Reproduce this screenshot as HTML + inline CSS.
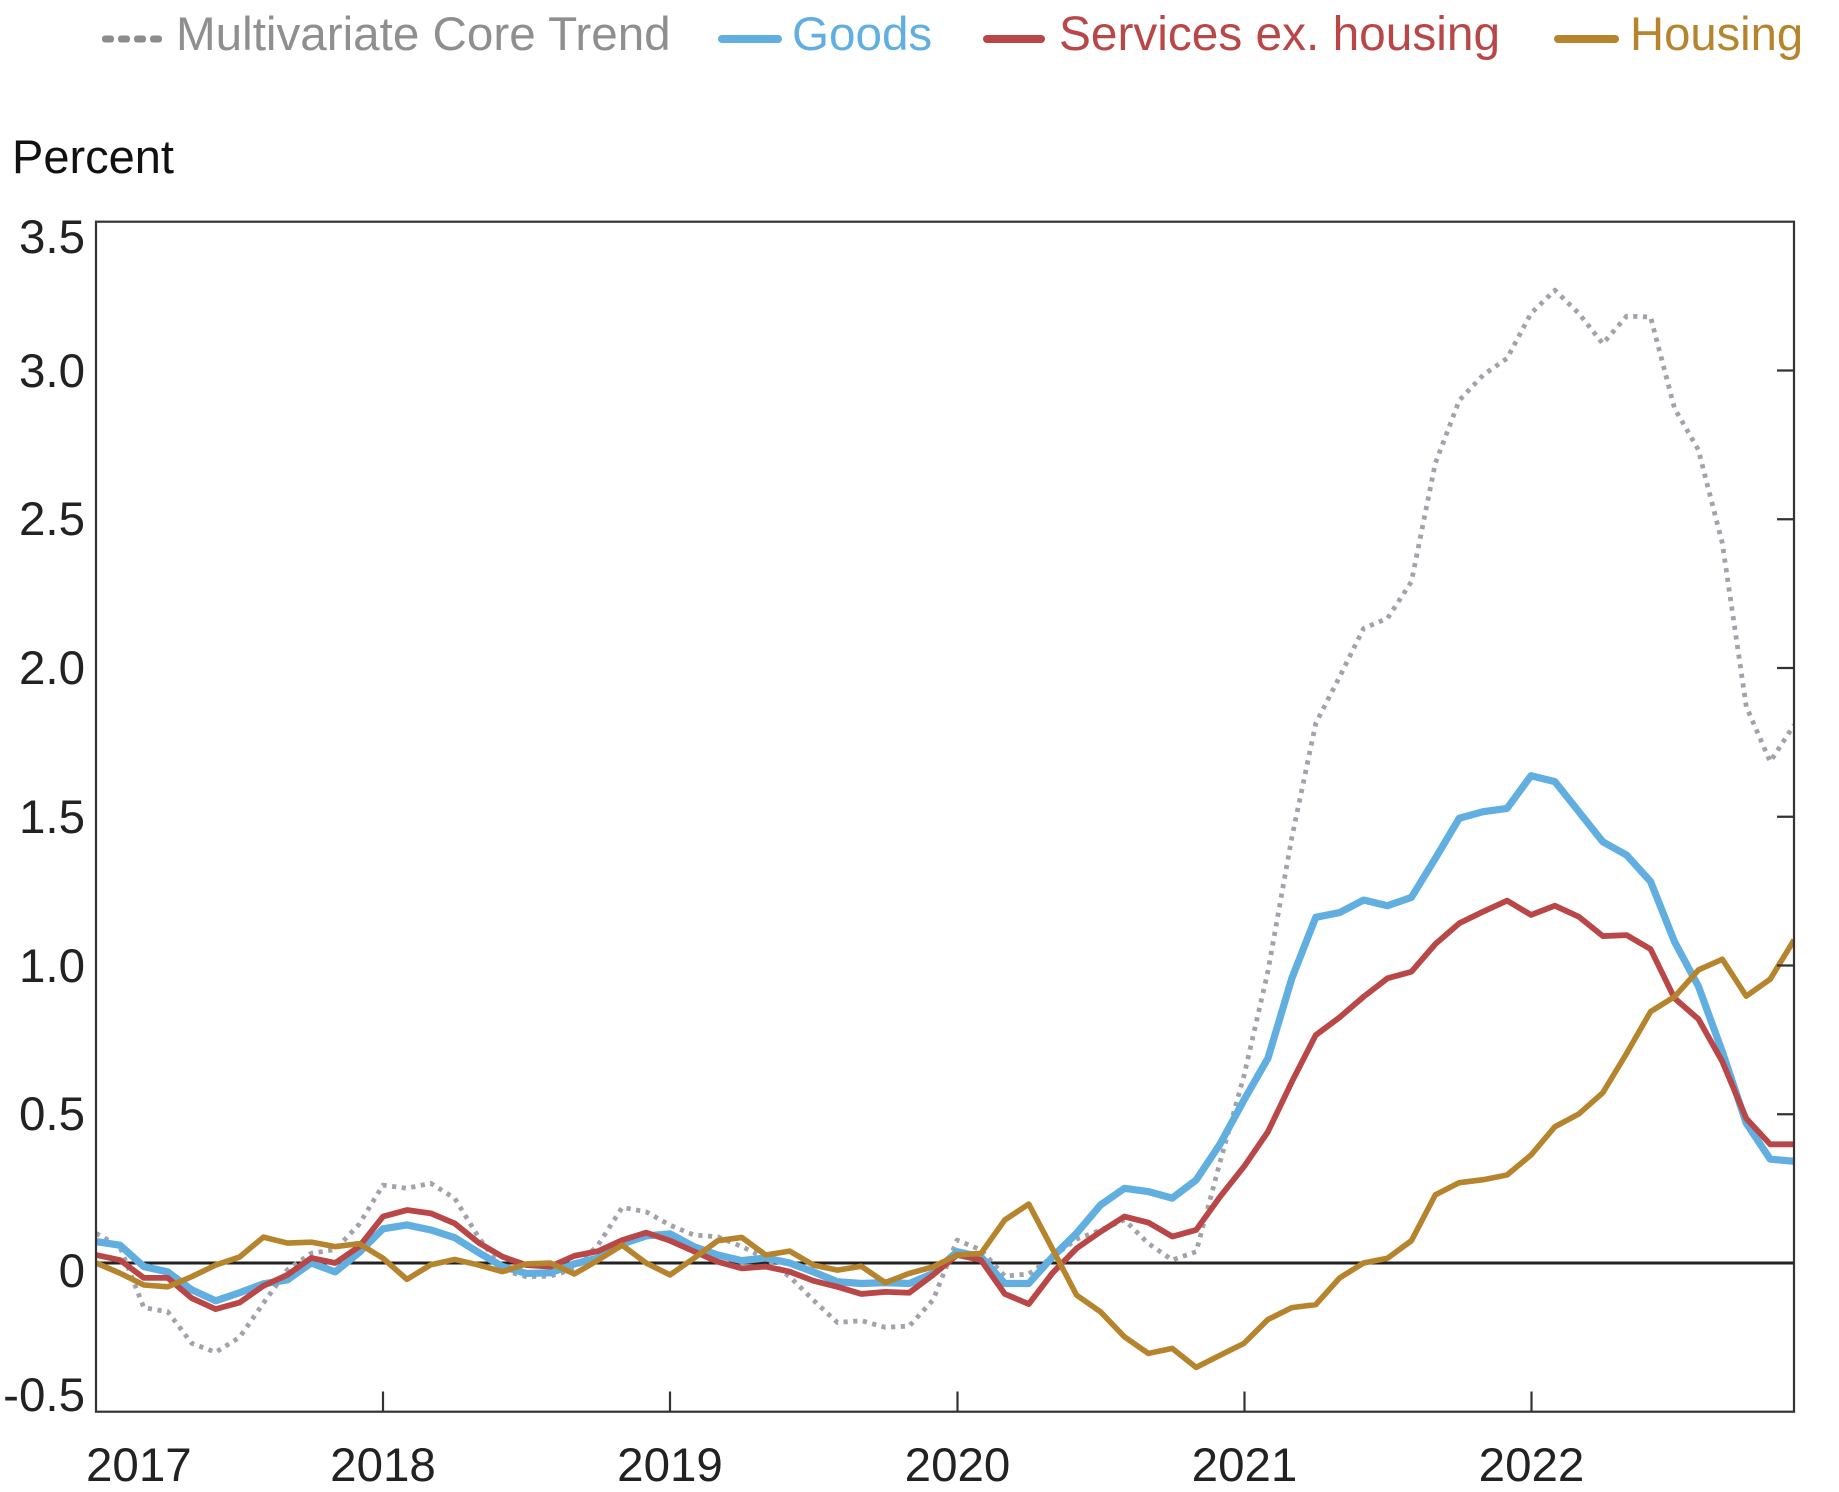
<!DOCTYPE html>
<html>
<head>
<meta charset="utf-8">
<style>
html,body{margin:0;padding:0;background:#fff;}
svg{display:block;}
text{font-family:"Liberation Sans",Arial,sans-serif;}
</style>
</head>
<body>
<svg width="1839" height="1492" viewBox="0 0 1839 1492" xmlns="http://www.w3.org/2000/svg">
<rect x="0" y="0" width="1839" height="1492" fill="#fff"/>

<!-- Legend -->
<g>
  <rect x="102" y="35.5" width="12" height="7" rx="3" fill="#8c8c8c"/>
  <rect x="118" y="35.5" width="12" height="7" rx="3" fill="#8c8c8c"/>
  <rect x="134" y="35.5" width="12" height="7" rx="3" fill="#8c8c8c"/>
  <rect x="150" y="35.5" width="12" height="7" rx="3" fill="#8c8c8c"/>
  <text x="176" y="50" font-size="47.6" fill="#8f8f8f">Multivariate Core Trend</text>

  <line x1="722" y1="39" x2="778" y2="39" stroke="#61aee0" stroke-width="8" stroke-linecap="round"/>
  <text x="792" y="50" font-size="47.6" fill="#61aee0">Goods</text>

  <line x1="987" y1="39" x2="1041" y2="39" stroke="#b94747" stroke-width="8" stroke-linecap="round"/>
  <text x="1059" y="50" font-size="47.8" fill="#b94747">Services ex. housing</text>

  <line x1="1558" y1="39" x2="1615" y2="39" stroke="#b5842d" stroke-width="8" stroke-linecap="round"/>
  <text x="1630" y="50" font-size="47.2" fill="#b5842d">Housing</text>
</g>

<!-- Axis title -->
<text x="12" y="173" font-size="47" fill="#111">Percent</text>

<!-- Y tick labels -->
<g font-size="47.5" fill="#222" text-anchor="end">
  <text x="85" y="253">3.5</text>
  <text x="85" y="387">3.0</text>
  <text x="85" y="535">2.5</text>
  <text x="85" y="684">2.0</text>
  <text x="85" y="833">1.5</text>
  <text x="85" y="982">1.0</text>
  <text x="85" y="1130">0.5</text>
  <text x="85" y="1287">0</text>
  <text x="85" y="1411">-0.5</text>
</g>

<!-- X tick labels -->
<g font-size="47.5" fill="#222">
  <text x="86" y="1481">2017</text>
  <text x="383" y="1481" text-anchor="middle">2018</text>
  <text x="670" y="1481" text-anchor="middle">2019</text>
  <text x="957.5" y="1481" text-anchor="middle">2020</text>
  <text x="1244.5" y="1481" text-anchor="middle">2021</text>
  <text x="1531.5" y="1481" text-anchor="middle">2022</text>
</g>

<defs>
  <clipPath id="pc"><rect x="96" y="221" width="1698" height="1191"/></clipPath>
</defs>

<!-- Zero line -->
<line x1="96" y1="1263" x2="1794" y2="1263" stroke="#222" stroke-width="3"/>

<g clip-path="url(#pc)" fill="none" stroke-linejoin="round">
  <!-- Multivariate core trend (dotted) -->
  <polyline stroke="#a2a3aa" stroke-width="4.8" stroke-dasharray="4.2 5.5" points="
96.0,1233.3 119.9,1246.6 143.8,1307.6 167.8,1311.8 191.7,1343.3 215.6,1352.3 239.5,1337.4 263.4,1303.2 287.3,1269.8 311.3,1253.2 335.2,1249.6 359.1,1224.3 383.0,1185.1 406.9,1188.3 430.8,1183.3 454.8,1198.4 478.7,1237.4 502.6,1270.1 526.5,1276.7 550.4,1276.1 574.3,1269.0 598.3,1244.6 622.2,1207.4 646.1,1211.8 670.0,1225.2 693.9,1235.0 717.8,1236.8 741.8,1246.6 765.7,1258.2 789.6,1276.7 813.5,1300.2 837.4,1322.5 861.3,1320.7 885.3,1327.3 909.2,1326.1 933.1,1299.9 957.0,1240.1 980.9,1249.9 1004.8,1276.1 1028.8,1274.0 1052.7,1256.8 1076.6,1239.2 1100.5,1230.0 1124.4,1219.9 1148.3,1243.4 1172.3,1260.0 1196.2,1251.7 1220.1,1161.9 1244.0,1075.6 1267.9,971.5 1291.8,837.6 1315.8,723.3 1339.7,676.6 1363.6,628.4 1387.5,618.3 1411.4,581.7 1435.3,463.3 1459.3,400.3 1483.2,375.0 1507.1,358.3 1531.0,313.4 1554.9,290.2 1578.8,313.4 1602.8,343.7 1626.7,316.1 1650.6,317.0 1674.5,408.3 1698.4,449.9 1722.3,543.1 1746.3,706.7 1770.2,761.7 1794.1,725.1"/>

  <g transform="translate(96,1263) scale(23.9167,-297.5)">
    <!-- Goods -->
    <polyline stroke="#61aee0" stroke-width="7.2" vector-effect="non-scaling-stroke" points="
0,0.072 1,0.06 2,-0.012 3,-0.03 4,-0.09 5,-0.127 6,-0.1 7,-0.07 8,-0.057 9,0.0 10,-0.03 11,0.035 12,0.115 13,0.128 14,0.111 15,0.085 16,0.035 17,-0.012 18,-0.035 19,-0.033 20,-0.003 21,0.017 22,0.064 23,0.091 24,0.098 25,0.055 26,0.027 27,0.008 28,0.017 29,0.0 30,-0.03 31,-0.063 32,-0.069 33,-0.066 34,-0.069 35,-0.035 36,0.038 37,0.021 38,-0.069 39,-0.069 40,0.021 41,0.1 42,0.195 43,0.251 44,0.24 45,0.218 46,0.279 47,0.40 48,0.548 49,0.688 50,0.957 51,1.162 52,1.178 53,1.22 54,1.201 55,1.229 56,1.36 57,1.495 58,1.517 59,1.528 60,1.638 61,1.618 62,1.517 63,1.416 64,1.371 65,1.282 66,1.08 67,0.93 68,0.71 69,0.47 70,0.349 71,0.342"/>
    <!-- Services ex. housing -->
    <polyline stroke="#b94747" stroke-width="5.8" vector-effect="non-scaling-stroke" points="
0,0.027 1,0.01 2,-0.05 3,-0.05 4,-0.118 5,-0.155 6,-0.133 7,-0.077 8,-0.04 9,0.017 10,0.0 11,0.055 12,0.156 13,0.178 14,0.167 15,0.133 16,0.068 17,0.021 18,-0.007 19,-0.012 20,0.024 21,0.04 22,0.077 23,0.102 24,0.075 25,0.039 26,0.004 27,-0.018 28,-0.012 29,-0.029 30,-0.06 31,-0.08 32,-0.104 33,-0.097 34,-0.1 35,-0.04 36,0.027 37,0.01 38,-0.104 39,-0.138 40,-0.033 41,0.049 42,0.105 43,0.156 44,0.136 45,0.089 46,0.111 47,0.223 48,0.324 49,0.441 50,0.609 51,0.766 52,0.826 53,0.895 54,0.957 55,0.979 56,1.072 57,1.142 58,1.181 59,1.218 60,1.17 61,1.201 62,1.164 63,1.099 64,1.102 65,1.055 66,0.89 67,0.82 68,0.677 69,0.486 70,0.399 71,0.399"/>
    <!-- Housing -->
    <polyline stroke="#b5842d" stroke-width="5.6" vector-effect="non-scaling-stroke" points="
0,0.0 1,-0.034 2,-0.074 3,-0.08 4,-0.046 5,-0.007 6,0.02 7,0.087 8,0.067 9,0.07 10,0.055 11,0.065 12,0.016 13,-0.055 14,-0.006 15,0.012 16,-0.007 17,-0.029 18,-0.003 19,0.0 20,-0.037 21,0.01 22,0.06 23,0.0 24,-0.04 25,0.016 26,0.075 27,0.086 28,0.027 29,0.04 30,-0.007 31,-0.024 32,-0.011 33,-0.066 34,-0.035 35,-0.013 36,0.027 37,0.032 38,0.145 39,0.198 40,0.046 41,-0.108 42,-0.164 43,-0.248 44,-0.304 45,-0.287 46,-0.351 47,-0.31 48,-0.27 49,-0.19 50,-0.15 51,-0.14 52,-0.05 53,0.0 54,0.016 55,0.075 56,0.229 57,0.27 58,0.28 59,0.296 60,0.363 61,0.458 62,0.501 63,0.572 64,0.705 65,0.845 66,0.895 67,0.985 68,1.021 69,0.897 70,0.954 71,1.086"/>
  </g>
</g>

<!-- Frame -->
<rect x="96" y="221.7" width="1698" height="1190" fill="none" stroke="#333" stroke-width="2.2"/>

<!-- Right ticks -->
<g stroke="#333" stroke-width="2.2">
  <line x1="1777" y1="370.5" x2="1794" y2="370.5"/>
  <line x1="1777" y1="519.25" x2="1794" y2="519.25"/>
  <line x1="1777" y1="668" x2="1794" y2="668"/>
  <line x1="1777" y1="816.75" x2="1794" y2="816.75"/>
  <line x1="1777" y1="965.5" x2="1794" y2="965.5"/>
  <line x1="1777" y1="1114.25" x2="1794" y2="1114.25"/>
  <!-- Bottom ticks -->
  <line x1="383" y1="1391.5" x2="383" y2="1411.7"/>
  <line x1="670" y1="1391.5" x2="670" y2="1411.7"/>
  <line x1="957.5" y1="1391.5" x2="957.5" y2="1411.7"/>
  <line x1="1244.5" y1="1391.5" x2="1244.5" y2="1411.7"/>
  <line x1="1531.5" y1="1391.5" x2="1531.5" y2="1411.7"/>
</g>
</svg>
</body>
</html>
